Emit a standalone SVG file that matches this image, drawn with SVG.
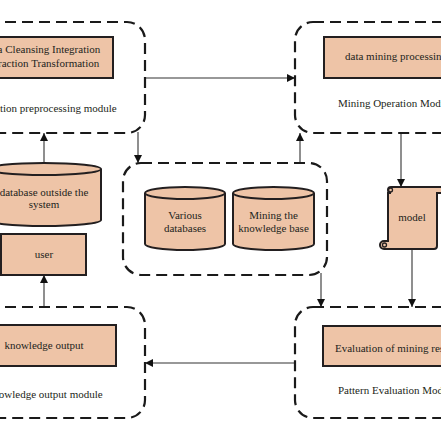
<svg xmlns="http://www.w3.org/2000/svg" width="441" height="441" viewBox="0 0 441 441">
<style>
.mod{fill:none;stroke:#1a1a1a;stroke-width:2.2;stroke-dasharray:11 6}
.box{fill:#EEC4A7;stroke:#231F20;stroke-width:2}
.t{font-family:"Liberation Serif","Times New Roman",serif;font-size:11px;fill:#231F20}
.c{text-anchor:middle}
.e{text-anchor:end}
.con{fill:none;stroke:#333;stroke-width:1.1;marker-end:url(#ah)}
</style>
<defs>
<marker id="ah" viewBox="0 0 10 10" refX="10" refY="5" markerWidth="8" markerHeight="8" markerUnits="userSpaceOnUse" orient="auto">
<path d="M0,0 L10,5 L0,10 Z" fill="#111"/>
</marker>
</defs>
<rect width="441" height="441" fill="#fff"/>
<g id="connectors">
<path class="con" d="M145,78 H295"/>
<path class="con" d="M138,132 V163"/>
<path class="con" d="M300,163 V133"/>
<path class="con" d="M401,133 V187"/>
<path class="con" d="M412,249 V307"/>
<path class="con" d="M321,273 V307"/>
<path class="con" d="M295,363 H145"/>
<path class="con" d="M44,307 V275"/>
<path class="con" d="M44,163 V133"/>
</g>
<g id="data-preprocessing-module">
<rect class="mod" x="-30" y="22" width="175" height="111" rx="18"/>
<rect class="box" x="-40" y="37" width="153" height="41"/>
<text class="t c" x="41" y="53">Data Cleansing Integration</text>
<text class="t c" x="41" y="67">Extraction Transformation</text>
<text class="t" x="0" y="112">tion preprocessing module</text>
</g>
<g id="mining-operation-module">
<rect class="mod" x="295" y="22" width="180" height="111" rx="18"/>
<rect class="box" x="324" y="37" width="160" height="41"/>
<text class="t" x="345" y="60">data mining processing</text>
<text class="t" x="338" y="107">Mining Operation Module</text>
</g>
<g id="database-outside">
<path class="box" d="M-13,169 V220 A57,6 0 0 0 101,220 V169"/>
<ellipse class="box" cx="44" cy="169" rx="57" ry="6"/>
<text class="t c" x="44" y="196">database outside the</text>
<text class="t c" x="44" y="208">system</text>
</g>
<g id="user">
<rect class="box" x="1" y="234" width="85" height="41"/>
<text class="t c" x="44" y="258">user</text>
</g>
<g id="database-module">
<rect class="mod" x="123" y="163" width="204" height="112" rx="18"/>
</g>
<g id="various-databases">
<path class="box" d="M145,193 V244 A40,6 0 0 0 225,244 V193"/>
<ellipse class="box" cx="185" cy="193" rx="40" ry="6"/>
<text class="t c" x="185" y="219">Various</text>
<text class="t c" x="185" y="232">databases</text>
</g>
<g id="mining-knowledge-base">
<path class="box" d="M233,193 V244 A40.5,6 0 0 0 314,244 V193"/>
<ellipse class="box" cx="273.5" cy="193" rx="40.5" ry="6"/>
<text class="t c" x="273.5" y="219">Mining the</text>
<text class="t c" x="273.5" y="232">knowledge base</text>
</g>
<g id="model">
<path class="box" d="M391,187 H470 V193 H437 V246 Q437,249 434,249 H384 A4,4 0 0 1 384,241 H388 V193 H391 A3,3 0 0 1 391,187 Z"/>
<circle cx="390.5" cy="190" r="2" fill="none" stroke="#231F20" stroke-width="1.3"/>
<circle cx="384.5" cy="245" r="2" fill="none" stroke="#231F20" stroke-width="1.3"/>
<text class="t c" x="412" y="221">model</text>
</g>
<g id="knowledge-output-module">
<rect class="mod" x="-30" y="307" width="175" height="111" rx="18"/>
<rect class="box" x="-40" y="325" width="156" height="41"/>
<text class="t c" x="44" y="349">knowledge output</text>
<text class="t c" x="44" y="398">Knowledge output module</text>
</g>
<g id="pattern-evaluation-module">
<rect class="mod" x="295" y="307" width="180" height="111" rx="18"/>
<rect class="box" x="323" y="326" width="160" height="40"/>
<text class="t" x="335" y="352">Evaluation of mining results</text>
<text class="t" x="338" y="394">Pattern Evaluation Module</text>
</g>
</svg>
